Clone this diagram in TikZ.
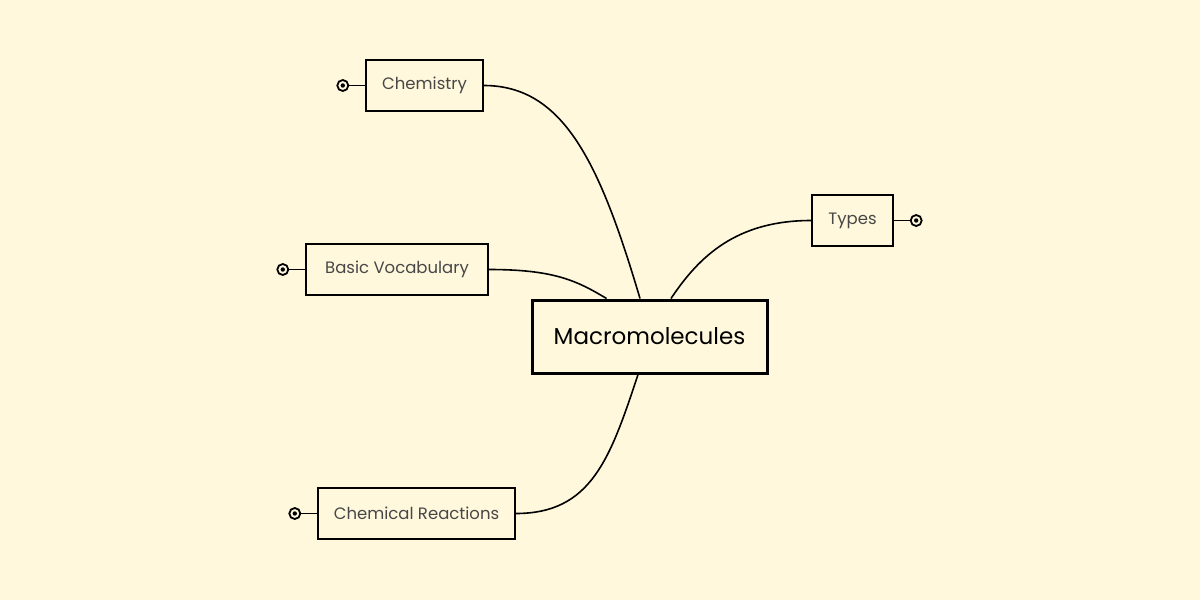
\documentclass[tikz,border=0pt]{standalone}
\usepackage{fontspec}
\setmainfont{Poppins}
\usetikzlibrary{positioning}
\definecolor{paper}{HTML}{FFF8DC}
\definecolor{ink}{HTML}{474747}
\tikzstyle{root} = [rectangle, draw=black, line width=3pt, minimum width=235pt, minimum height=73pt, text centered, font=\fontsize{23}{26}\selectfont]
\tikzstyle{topic} = [rectangle, draw=black, line width=1.6pt, minimum height=51pt, text centered, text=ink, font=\fontsize{16.5}{19}\selectfont]
\tikzstyle{knob} = [circle, draw=black, line width=1.8pt, minimum size=11pt, inner sep=0pt, path picture={\fill (path picture bounding box.center) circle (2.2pt);}]
\tikzstyle{link} = [line width=1.6pt]

\begin{document}
\begin{tikzpicture}[x=1pt, y=-1pt]
        \useasboundingbox[fill=paper] (0,0) rectangle (1200,600);
        %central topic
        \node (Macro) [root] at (649.5,336.5) {Macromolecules};
        %branches
        \node (Chemistry) [topic, minimum width=117pt] at (424.5,85.5) {Chemistry};
        \node (Vocab) [topic, minimum width=182pt] at (397,269.5) {Basic Vocabulary};
        \node (Reactions) [topic, minimum width=197pt] at (416.5,513.5) {Chemical Reactions};
        \node (Types) [topic, minimum width=81pt] at (852.5,220.5) {Types};
        %collapse knobs
        \node (ChemKnob) [knob, left=16pt of Chemistry] {};
        \node (VocabKnob) [knob, left=16pt of Vocab] {};
        \node (ReactKnob) [knob, left=16pt of Reactions] {};
        \node (TypesKnob) [knob, right=16pt of Types] {};
        %curves
        \draw [link] (Chemistry.east) .. controls +(80,0) and +(-40,-135) .. ([xshift=-9.5pt]Macro.north);
        \draw [link] (Vocab.east) .. controls +(65,0) and +(-30,-18) .. ([xshift=-43pt]Macro.north);
        \draw [link] (Types.west) .. controls +(-75,0) and +(28,-42) .. ([xshift=21.5pt]Macro.north);
        \draw [link] (Reactions.east) .. controls +(75,0) and +(-28,85) .. ([xshift=-11.5pt]Macro.south);
        \draw [link] (ChemKnob) -- (Chemistry);
        \draw [link] (VocabKnob) -- (Vocab);
        \draw [link] (ReactKnob) -- (Reactions);
        \draw [link] (TypesKnob) -- (Types);
\end{tikzpicture}
\end{document}
